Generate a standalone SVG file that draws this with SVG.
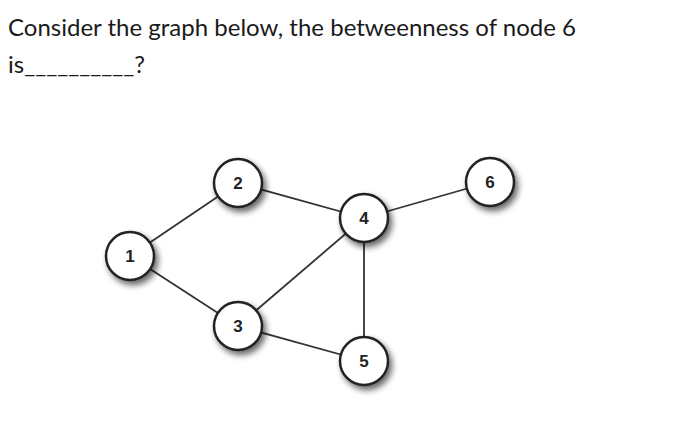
<svg xmlns="http://www.w3.org/2000/svg" width="693" height="426" viewBox="0 0 693 426">
<defs>
<filter id="sh" x="-50%" y="-50%" width="200%" height="200%"><feGaussianBlur in="SourceAlpha" stdDeviation="3"/><feOffset dx="3" dy="4"/><feComponentTransfer><feFuncA type="linear" slope="0.6"/></feComponentTransfer><feMerge><feMergeNode/><feMergeNode in="SourceGraphic"/></feMerge></filter>
</defs>
<style>
.q{font-family:Lato,"Liberation Sans",sans-serif;font-size:24px;fill:#1a1a1a}
.n circle{fill:#fff;stroke:#222;stroke-width:2.5;filter:url(#sh)}
.n text{font-family:"Liberation Sans",Arial,sans-serif;font-weight:bold;font-size:17px;text-anchor:middle;fill:#222}
.e line{stroke:#333;stroke-width:1.8}
</style>
<rect width="693" height="426" fill="#fff"/>
<text class="q" x="8" y="36" textLength="568">Consider the graph below, the betweenness of node 6</text>
<text class="q" x="8" y="73">is__________?</text>
<g class="e" id="edges">
<line x1="130" y1="256" x2="238" y2="183"/>
<line x1="130" y1="256" x2="238" y2="326"/>
<line x1="238" y1="183" x2="364" y2="218"/>
<line x1="238" y1="326" x2="364" y2="218"/>
<line x1="238" y1="326" x2="364" y2="361"/>
<line x1="364" y1="218" x2="364" y2="361"/>
<line x1="364" y1="218" x2="490" y2="182"/>
</g>
<g class="n" id="node1"><circle cx="130" cy="256" r="24"/><text x="130" y="262">1</text></g>
<g class="n" id="node2"><circle cx="238" cy="183" r="24"/><text x="238" y="189">2</text></g>
<g class="n" id="node3"><circle cx="238" cy="326" r="24"/><text x="238" y="332">3</text></g>
<g class="n" id="node4"><circle cx="364" cy="218" r="24"/><text x="364" y="224">4</text></g>
<g class="n" id="node5"><circle cx="364" cy="361" r="24"/><text x="364" y="367">5</text></g>
<g class="n" id="node6"><circle cx="490" cy="182" r="24"/><text x="490" y="188">6</text></g>
</svg>
